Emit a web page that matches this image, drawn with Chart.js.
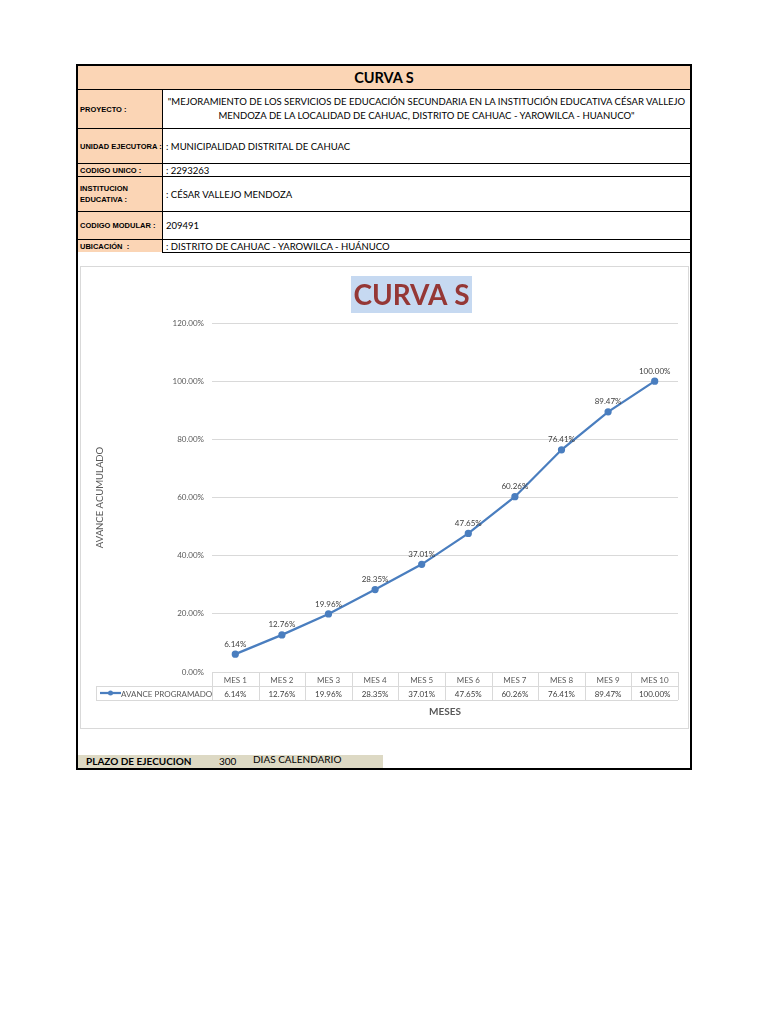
<!DOCTYPE html>
<html>
<head>
<meta charset="utf-8">
<title>Curva S</title>
<script src="https://cdn.jsdelivr.net/npm/chart.js@4.4.0/dist/chart.umd.min.js"></script>
<style>
    body { margin: 0; background: #fff; font-family: Lato, "Open Sans", sans-serif; }
    .abs { position: absolute; box-sizing: border-box; }
    .peach { background: #fbd5b5; }
    .lbl { font-family: "Liberation Sans", Arial, sans-serif; font-weight: bold; font-size: 7.5px; color: #000; display: flex; align-items: center; padding-left: 2px; line-height: 11px; }
    .val { font-size: 9.5px; color: #000; display: flex; align-items: center; padding-left: 3px; }
    .hline { position: absolute; height: 1px; background: #000; }
    .vline { position: absolute; width: 1px; background: #000; }
</style>
</head>
<body>
<!-- outer frame -->
<div class="abs" style="left:76px;top:64px;width:616px;height:706px;border:2px solid #000;"></div>

<!-- header -->
<div class="abs peach" style="left:78px;top:66px;width:612px;height:23px;display:flex;align-items:center;justify-content:center;font-weight:bold;font-size:14.5px;">CURVA S</div>
<div class="hline" style="left:78px;top:89px;width:612px;"></div>

<div class="abs peach lbl" style="left:78px;top:90px;width:84px;height:38px;">PROYECTO :</div>
<div class="abs val" style="left:163px;top:90px;width:527px;height:38px;justify-content:center;text-align:center;line-height:14px;padding-left:0;">"MEJORAMIENTO DE LOS SERVICIOS DE EDUCACIÓN SECUNDARIA EN LA INSTITUCIÓN EDUCATIVA CÉSAR VALLEJO<br>MENDOZA DE LA LOCALIDAD DE CAHUAC, DISTRITO DE CAHUAC - YAROWILCA - HUANUCO"</div>
<div class="hline" style="left:78px;top:128px;width:612px;"></div>

<div class="abs peach lbl" style="left:78px;top:129px;width:84px;height:34px;">UNIDAD EJECUTORA :</div>
<div class="abs val" style="left:163px;top:129px;width:527px;height:34px;">: MUNICIPALIDAD DISTRITAL DE CAHUAC</div>
<div class="hline" style="left:78px;top:163px;width:612px;"></div>

<div class="abs peach lbl" style="left:78px;top:164px;width:84px;height:12px;">CODIGO UNICO :</div>
<div class="abs val" style="left:163px;top:164px;width:527px;height:12px;">: 2293263</div>
<div class="hline" style="left:78px;top:176px;width:612px;"></div>

<div class="abs peach lbl" style="left:78px;top:177px;width:84px;height:34px;">INSTITUCION<br>EDUCATIVA :</div>
<div class="abs val" style="left:163px;top:177px;width:527px;height:34px;">: CÉSAR VALLEJO MENDOZA</div>
<div class="hline" style="left:78px;top:211px;width:612px;"></div>

<div class="abs peach lbl" style="left:78px;top:212px;width:84px;height:27px;">CODIGO MODULAR :</div>
<div class="abs val" style="left:163px;top:212px;width:527px;height:27px;">209491</div>
<div class="hline" style="left:78px;top:239px;width:612px;"></div>

<div class="abs peach lbl" style="left:78px;top:240px;width:84px;height:12px;">UBICACIÓN&nbsp; :</div>
<div class="abs val" style="left:163px;top:240px;width:527px;height:12px;">: DISTRITO DE CAHUAC - YAROWILCA - HUÁNUCO</div>
<div class="hline" style="left:162px;top:252px;width:528px;"></div>
<div class="vline" style="left:162px;top:89px;height:164px;"></div>

<!-- chart -->
<div class="abs" style="left:80px;top:266px;width:609px;height:463px;border:1px solid #d9d9d9;"></div>
<div class="abs" style="left:80px;top:266px;width:608px;height:462px;">
    <canvas id="curvaChart" width="608" height="462"></canvas>
</div>

<!-- footer -->
<div class="abs" style="left:78px;top:755px;width:305px;height:13px;background:#ddd9c4;"></div>
<div class="abs" style="left:86px;top:755px;height:13px;font-weight:bold;font-size:10px;line-height:13px;">PLAZO DE EJECUCION</div>
<div class="abs" style="left:219px;top:755px;height:13px;font-size:10px;line-height:13px;">300</div>
<div class="abs" style="left:253px;top:753px;height:13px;font-size:10px;line-height:13px;">DIAS CALENDARIO</div>

<script>
// chart data
const meses = ['MES 1', 'MES 2', 'MES 3', 'MES 4', 'MES 5', 'MES 6', 'MES 7', 'MES 8', 'MES 9', 'MES 10'];
const avanceProgramado = [6.14, 12.76, 19.96, 28.35, 37.01, 47.65, 60.26, 76.41, 89.47, 100.00];
const serieNombre = 'AVANCE PROGRAMADO';
const yMax = 120;
const yStep = 20;

const lineColor = '#4a7ebf';
const pct = v => v.toFixed(2) + '%';

// title box "CURVA S"
const titleBox = {
    id: 'titleBox',
    afterDraw(chart) {
        const ctx = chart.ctx;
        ctx.save();
        ctx.fillStyle = '#c6d9f1';
        ctx.fillRect(271, 10, 121, 37);
        ctx.fillStyle = '#953735';
        ctx.font = 'bold 28px Lato';
        ctx.textAlign = 'center';
        ctx.textBaseline = 'middle';
        ctx.fillText('CURVA S', 331.5, 30);
        ctx.restore();
    }
};

// labels above each point
const pointLabels = {
    id: 'pointLabels',
    afterDatasetsDraw(chart) {
        const ctx = chart.ctx;
        const meta = chart.getDatasetMeta(0);
        ctx.save();
        ctx.fillStyle = '#404040';
        ctx.font = '8px Lato';
        ctx.textAlign = 'center';
        ctx.textBaseline = 'bottom';
        meta.data.forEach((pt, i) => {
            ctx.fillText(pct(avanceProgramado[i]), pt.x, pt.y - 6);
        });
        ctx.restore();
    }
};

// data table under the plot, like Excel
const dataTable = {
    id: 'dataTable',
    afterDraw(chart) {
        const ctx = chart.ctx;
        const area = chart.chartArea;
        const xs = chart.scales.x;
        const colW = (area.right - area.left) / meses.length;
        const top = area.bottom;
        const rowH = 14;
        const legendLeft = 16;

        ctx.save();
        ctx.strokeStyle = '#d9d9d9';
        ctx.lineWidth = 1;
        ctx.beginPath();
        ctx.moveTo(area.left, top + 0.5);
        ctx.lineTo(area.right, top + 0.5);
        ctx.moveTo(legendLeft, top + rowH + 0.5);
        ctx.lineTo(area.right, top + rowH + 0.5);
        ctx.moveTo(legendLeft, top + 2 * rowH + 0.5);
        ctx.lineTo(area.right, top + 2 * rowH + 0.5);
        ctx.moveTo(legendLeft + 0.5, top + rowH);
        ctx.lineTo(legendLeft + 0.5, top + 2 * rowH);
        for (let i = 0; i <= meses.length; i++) {
            const x = Math.round(area.left + i * colW) + 0.5;
            ctx.moveTo(x, top);
            ctx.lineTo(x, top + 2 * rowH);
        }
        ctx.stroke();

        ctx.font = '8px Lato';
        ctx.textAlign = 'center';
        ctx.textBaseline = 'middle';
        meses.forEach((m, i) => {
            const x = xs.getPixelForValue(i);
            ctx.fillStyle = '#595959';
            ctx.fillText(m, x, top + rowH / 2 + 1);
            ctx.fillStyle = '#404040';
            ctx.fillText(pct(avanceProgramado[i]), x, top + rowH * 1.5 + 1);
        });

        // legend key
        const ly = top + rowH * 1.5;
        ctx.strokeStyle = lineColor;
        ctx.lineWidth = 2.25;
        ctx.beginPath();
        ctx.moveTo(20, ly);
        ctx.lineTo(41, ly);
        ctx.stroke();
        ctx.fillStyle = lineColor;
        ctx.beginPath();
        ctx.arc(30.5, ly, 2.5, 0, Math.PI * 2);
        ctx.fill();
        ctx.fillStyle = '#595959';
        ctx.textAlign = 'left';
        ctx.fillText(serieNombre, 41, ly + 1);

        // axis title
        ctx.font = 'bold 10px Lato';
        ctx.textAlign = 'center';
        ctx.fillStyle = '#595959';
        ctx.fillText('MESES', (area.left + area.right) / 2, top + 2 * rowH + 12);
        ctx.restore();
    }
};

const ctx = document.getElementById('curvaChart').getContext('2d');
const curvaChart = new Chart(ctx, {
    type: 'line',
    data: {
        labels: meses,
        datasets: [{
            label: serieNombre,
            data: avanceProgramado,
            borderColor: lineColor,
            backgroundColor: lineColor,
            borderWidth: 2.25,
            pointRadius: 2.5,
            pointHoverRadius: 2.5,
            tension: 0
        }]
    },
    options: {
        responsive: false,
        animation: false,
        layout: { padding: { top: 57, right: 10, left: 0, bottom: 0 } },
        plugins: {
            legend: { display: false },
            tooltip: { enabled: false }
        },
        scales: {
            x: {
                offset: true,
                grid: { display: false },
                border: { display: false },
                ticks: { display: false },
                afterFit(scale) { scale.height = 56; }
            },
            y: {
                min: 0,
                max: yMax,
                ticks: {
                    stepSize: yStep,
                    padding: 8,
                    color: '#595959',
                    font: { family: 'Lato', size: 8 },
                    callback: v => pct(v)
                },
                grid: { color: '#d9d9d9', drawTicks: false },
                border: { display: false },
                title: {
                    display: true,
                    text: 'AVANCE ACUMULADO',
                    color: '#595959',
                    font: { family: 'Lato', size: 9.5 },
                    padding: { top: 14, bottom: 0 }
                },
                afterFit(scale) { scale.width = 132; }
            }
        }
    },
    plugins: [titleBox, pointLabels, dataTable]
});
</script>
</body>
</html>
